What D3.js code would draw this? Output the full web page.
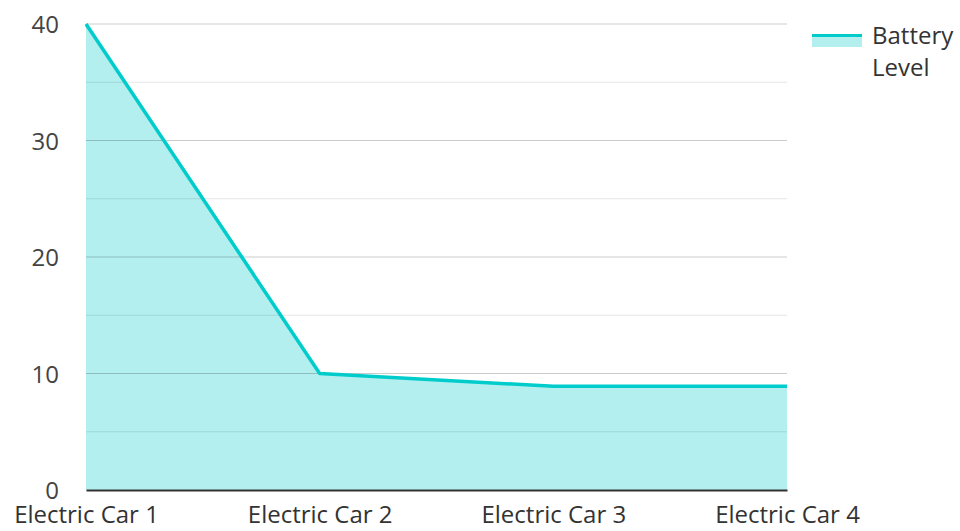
<!DOCTYPE html>
<html>
<head>
<meta charset="utf-8">
<script src="https://cdn.jsdelivr.net/npm/d3@7"></script>
<style>
  body { margin: 0; background: #fff; }
  text { font-family: "Open Sans", "Noto Sans", sans-serif; }
</style>
</head>
<body>
<div id="chart"></div>
<script>
// data
var categories = ["Electric Car 1", "Electric Car 2", "Electric Car 3", "Electric Car 4"];
var batteryLevel = [40, 10, 8.9, 8.9];
var yTicks = [0, 10, 20, 30, 40];
var yMinorTicks = [5, 15, 25, 35];
var seriesName = ["Battery", "Level"];

var margin = {top: 24, right: 173, bottom: 41, left: 86},
    width = 960 - margin.left - margin.right,
    height = 531 - margin.top - margin.bottom;

var svg = d3.select("#chart")
  .append("svg")
    .attr("width", 960)
    .attr("height", 531)
  .append("g")
    .attr("transform", "translate(" + margin.left + "," + margin.top + ")");

var x = d3.scalePoint()
    .domain(categories)
    .range([0, width]);

var y = d3.scaleLinear()
    .domain([0, 40])
    .range([height, 0]);

var data = categories.map(function(c, i) { return {cat: c, value: batteryLevel[i]}; });

// area
svg.append("path")
  .datum(data)
  .attr("fill", "#b2efee")
  .attr("d", d3.area()
    .x(function(d) { return x(d.cat); })
    .y0(y(0))
    .y1(function(d) { return y(d.value); }));

// grid lines on top of the fill
svg.append("g")
  .selectAll("line.minor")
  .data(yMinorTicks)
  .enter().append("line")
    .attr("x1", 0).attr("x2", width)
    .attr("y1", function(d) { return y(d); })
    .attr("y2", function(d) { return y(d); })
    .attr("stroke", "rgba(0,0,0,0.1)")
    .attr("stroke-width", 1);

svg.append("g")
  .selectAll("line.major")
  .data(yTicks.slice(1))
  .enter().append("line")
    .attr("x1", 0).attr("x2", width)
    .attr("y1", function(d) { return y(d); })
    .attr("y2", function(d) { return y(d); })
    .attr("stroke", "rgba(0,0,0,0.2)")
    .attr("stroke-width", 1);

// line
svg.append("path")
  .datum(data)
  .attr("fill", "none")
  .attr("stroke", "#00cccc")
  .attr("stroke-width", 3.5)
  .attr("stroke-linejoin", "round")
  .attr("d", d3.line()
    .x(function(d) { return x(d.cat); })
    .y(function(d) { return y(d.value); }));

// y axis labels
var yAxis = svg.append("g")
  .call(d3.axisLeft(y).tickValues(yTicks).tickSize(0).tickPadding(27));
yAxis.select(".domain").remove();
yAxis.selectAll("text")
  .attr("font-size", 24)
  .attr("fill", "#444")
  .attr("dy", "0.36em")
  .style("font-family", "'Open Sans', sans-serif");

// x axis
var xAxis = svg.append("g")
  .attr("transform", "translate(0," + height + ")")
  .call(d3.axisBottom(x).tickSize(0).tickPadding(8));
xAxis.select(".domain")
  .attr("stroke", "#333")
  .attr("stroke-width", 2);
xAxis.selectAll("text")
  .attr("font-size", 24)
  .attr("fill", "#333")
  .attr("dy", "1.05em")
  .style("font-family", "'Open Sans', sans-serif");

// legend
var legend = svg.append("g")
  .attr("transform", "translate(" + (width + 25) + ",10)");
legend.append("rect")
  .attr("x", 0).attr("y", 0)
  .attr("width", 50).attr("height", 13)
  .attr("fill", "#b2efee");
legend.append("line")
  .attr("x1", 0).attr("x2", 50)
  .attr("y1", 1.5).attr("y2", 1.5)
  .attr("stroke", "#00cccc")
  .attr("stroke-width", 3);
legend.selectAll("text")
  .data(seriesName)
  .enter().append("text")
    .attr("x", 60)
    .attr("y", function(d, i) { return 10 + i * 32; })
    .attr("font-size", 24)
    .attr("fill", "#333")
    .text(function(d) { return d; });
</script>
</body>
</html>
